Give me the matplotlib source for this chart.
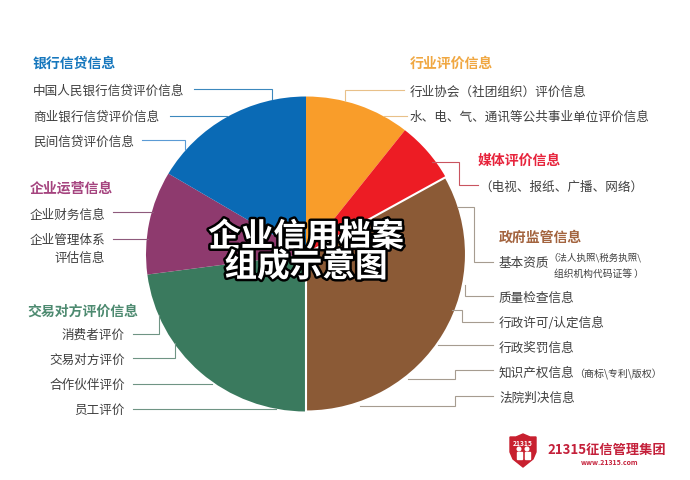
import matplotlib
matplotlib.use("Agg")
import matplotlib.pyplot as plt
import matplotlib.patheffects as pe
from matplotlib.patches import Polygon, Circle, Rectangle

plt.rcParams['font.family'] = ['Noto Sans CJK SC', 'DejaVu Sans']

# slice sizes in degrees, clockwise from 12 o'clock
categories = ["行业评价信息", "媒体评价信息", "政府监管信息", "交易对方评价信息", "企业运营信息", "银行信贷信息"]
shares = [38.2, 22.6, 119.2, 82.5, 38.2, 59.3]
slice_colors = ["#f99d2a", "#ed1c24", "#8b5a36", "#3a7a5e", "#8e3a6e", "#0a6ab5"]

bank_items = ["中国人民银行信贷评价信息", "商业银行信贷评价信息", "民间信贷评价信息"]
ops_items = ["企业财务信息", "企业管理体系", "评估信息"]
trade_items = ["消费者评价", "交易对方评价", "合作伙伴评价", "员工评价"]
industry_items = ["行业协会（社团组织）评价信息", "水、电、气、通讯等公共事业单位评价信息"]
media_items = ["（电视、报纸、广播、网络）"]
gov_items = ["基本资质", "质量检查信息", "行政许可/认定信息", "行政奖罚信息", "知识产权信息", "法院判决信息"]

W, H = 690, 481
TEXT = "#3f3f3f"

fig = plt.figure(figsize=(W / 100, H / 100), dpi=100)

# the pie in the picture is a little wider than tall, so it gets its own axes
pie_ax = fig.add_axes([146 / W, (H - 412.5) / H, 320 / W, 315 / H])
wedges, _ = pie_ax.pie(shares, colors=slice_colors, startangle=90, counterclock=False, radius=1, frame=False)
wedges[2].set_edgecolor("white")
wedges[2].set_linewidth(1.5)
wedges[2].set_zorder(3)
pie_ax.set_xlim(-1, 1)
pie_ax.set_ylim(-1, 1)
pie_ax.set_aspect("auto")
pie_ax.axis("off")

# everything else is placed in picture pixels on a see-through axes
ax = fig.add_axes([0, 0, 1, 1])
ax.patch.set_alpha(0)
ax.set_xlim(0, W)
ax.set_ylim(0, H)
ax.axis("off")


def Y(y):
    # pixel row of the picture -> data y
    return H - y


def head(x, y, s, color):
    ax.text(x, Y(y + 0.5), s, fontsize=10, fontweight="bold", color=color, ha="left", va="center")


def label(x, y, s, ha="left", size=9.05):
    ax.text(x, Y(y + 1), s, fontsize=size, color=TEXT, ha=ha, va="center")


def leader(xs, ys, color):
    ax.plot(xs, [Y(v) for v in ys], color=color, lw=0.8, solid_joinstyle="miter", zorder=1)


# top left group
head(33, 63, categories[5], "#1677bd")
for y, s in zip([90, 116, 141], bank_items):
    label(33, y, s)
leader([194, 272, 272], [90, 90, 100], "#3c88bd")
leader([170, 227], [117, 117], "#3c88bd")
leader([142, 185, 185], [141, 141, 151], "#5b9bd5")

# middle left group
head(30, 188, categories[4], "#a5447f")
label(105, 214, ops_items[0], ha="right")
label(105, 240, ops_items[1], ha="right")
label(105, 257, ops_items[2], ha="right")
leader([113, 153], [212.5, 212.5], "#8e5a7c")
leader([113, 148], [239.5, 239.5], "#8e5a7c")

# lower left group
head(27, 311, categories[3], "#4d8a70")
for y, s in zip([334, 359, 384, 409], trade_items):
    label(125, y, s, ha="right")
leader([133, 159, 159], [334.5, 334.5, 316], "#6f9484")
leader([133, 175, 175], [359, 359, 344], "#6f9484")
leader([133, 212], [384.5, 384.5], "#6f9484")
leader([133, 276], [409.5, 409.5], "#6f9484")

# top right group
head(410, 63, categories[0], "#f0a741")
label(410, 91, industry_items[0])
label(410, 116, industry_items[1])
leader([404, 345, 345], [91, 91, 102], "#e8c089")
leader([407, 384], [117, 117], "#e8c089")

# media group
head(478, 160, categories[1], "#e7243c")
label(479, 186, media_items[0])
leader([478, 459, 459, 432], [186, 186, 163, 163], "#c9545f")

# government group
head(499, 237, categories[2], "#a3643f")
for y, s in zip([263, 297, 322, 347, 372, 397], gov_items):
    label(499, y, s)
label(548, 257, "（法人执照\\税务执照\\", size=6.8)
label(554, 273, "组织机构代码证等 ）", size=7)
label(574, 373, "（商标\\专利\\版权）", size=7.2)
leader([493, 474, 474, 458], [263, 263, 208, 208], "#a69c90")
leader([493, 465, 465], [297, 297, 286], "#a69c90")
leader([493, 462, 462, 452], [323, 323, 311, 311], "#a69c90")
leader([493, 438], [346, 346], "#a69c90")
leader([493, 455, 455, 408], [371, 371, 380, 380], "#a69c90")
leader([493, 455, 455, 360], [397, 397, 407, 407], "#a69c90")

# centre title
outline = [pe.withStroke(linewidth=3.5, foreground="black")]
for y, s in zip([238, 268], ["企业信用档案", "组成示意图"]):
    ax.text(306, Y(y), s, fontsize=23.5, fontweight="bold", color="white", ha="center",
            va="center", path_effects=outline, zorder=5)

# logo
shield = [(523, 435), (530, 438), (536, 438), (536, 453), (533, 460), (523, 468), (513, 460), (510, 453), (510, 438), (516, 438)]
ax.add_patch(Polygon([(x, Y(y)) for x, y in shield], closed=True, color="#c8202f", zorder=2))
ax.text(523, Y(444), "21315", fontsize=4.8, fontweight="bold", style="italic", color="white", ha="center", va="center")
for cx in [519, 527]:
    ax.add_patch(Circle((cx, Y(450)), 1.8, color="white", zorder=3))
    ax.add_patch(Rectangle((cx - 2.5, Y(460)), 5, 7.5, color="white", zorder=3))
ax.text(547, Y(450), "21315征信管理集团", fontsize=9.5, fontweight="bold", color="#c4203a", ha="left", va="center")
ax.text(610, Y(463), "www.21315.com", fontsize=5, fontweight="bold", color="#c4203a", ha="center", va="center")

fig.savefig("out.png", dpi=100)
